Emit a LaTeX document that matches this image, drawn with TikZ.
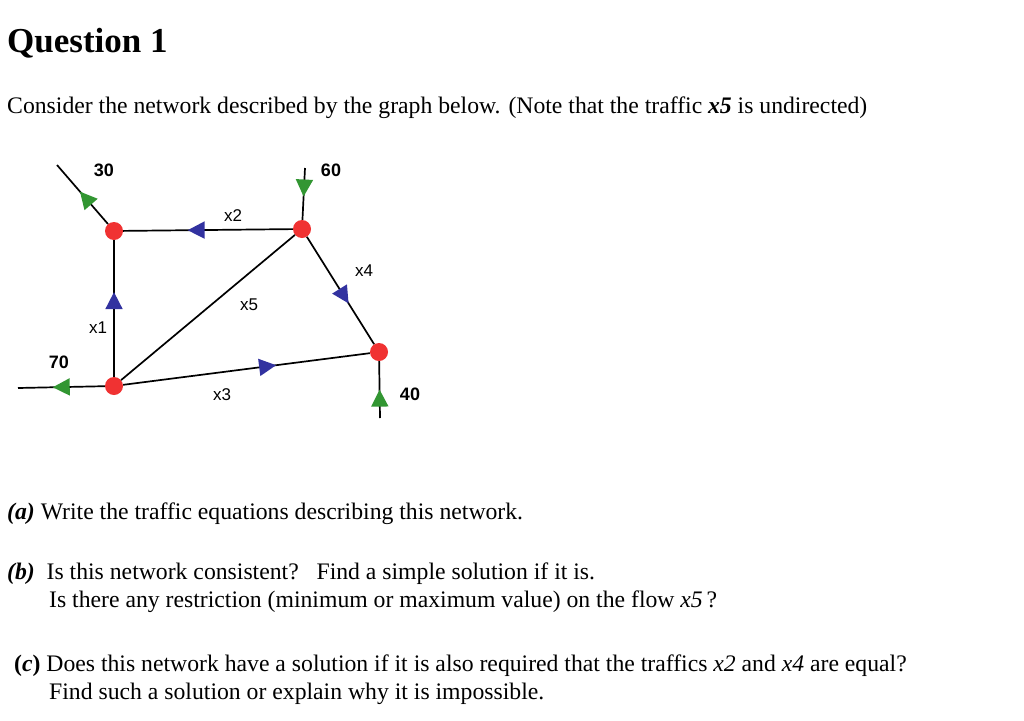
\documentclass[tikz,border=0pt]{standalone}
\usepackage{fontspec}
\setmainfont{Liberation Serif}
\setsansfont{Liberation Sans}
\usetikzlibrary{arrows.meta,decorations.markings}
\definecolor{nred}{RGB}{240,50,50}
\definecolor{ngreen}{RGB}{50,150,50}
\definecolor{nblue}{RGB}{50,50,160}
\tikzset{
  vtx/.style={circle,fill=nred,minimum size=18pt,inner sep=0pt},
  edge/.style={line width=1.7pt,black},
  mk/.style 2 args={postaction={decorate},decoration={markings,mark=at position #2 with {\arrow[#1]{Triangle[length=17pt,width=17pt]}}}},
  lab/.style={font=\sffamily\fontsize{17}{19}\selectfont},
  num/.style={font=\sffamily\bfseries\fontsize{18}{20}\selectfont},
  txt/.style={anchor=base west,inner sep=0pt,font=\fontsize{23.7}{26}\selectfont}
}
\begin{document}
\begin{tikzpicture}[x=1pt,y=-1pt]
\useasboundingbox[fill=white] (0,0) rectangle (1024,720);
\node[anchor=base west,inner sep=0pt,font=\bfseries\fontsize{35}{40}\selectfont] (title) at (7,52) {Question 1};
\node[txt] (intro) at (7,113) {Consider the network described by the graph below. (Note that the traffic \textbf{\textit{x5}} is undirected)};
\node[vtx] (A) at (114,231) {};
\node[vtx] (B) at (302,229) {};
\node[vtx] (C) at (379,352) {};
\node[vtx] (D) at (114,386) {};
\coordinate (o30) at (57,165);
\coordinate (i60) at (305,168);
\coordinate (o70) at (18,388);
\coordinate (i40) at (380,418);
\draw[edge,mk={nblue}{0.62}] (B) -- (A);
\draw[edge,mk={nblue}{0.62}] (D) -- (A);
\draw[edge,mk={nblue}{0.62}] (B) -- (C);
\draw[edge,mk={nblue}{0.62}] (D) -- (C);
\draw[edge] (D) -- (B);
\draw[edge,mk={ngreen}{0.55}] (A) -- (o30);
\draw[edge,mk={ngreen}{0.55}] (i60) -- (B);
\draw[edge,mk={ngreen}{0.6}] (D) -- (o70);
\draw[edge,mk={ngreen}{0.5}] (i40) -- (C);
\node[num] (n30) at (104,170) {30};
\node[num] (n60) at (331,170) {60};
\node[num] (n70) at (59,362) {70};
\node[num] (n40) at (410,394) {40};
\node[lab] (lx2) at (233,216) {x2};
\node[lab] (lx4) at (364,271) {x4};
\node[lab] (lx5) at (249,305) {x5};
\node[lab] (lx1) at (98,328) {x1};
\node[lab] (lx3) at (222,395) {x3};
\node[txt] (qa) at (7,519) {\textbf{\textit{(a)}} Write the traffic equations describing this network.};
\node[txt] (qb) at (7,579) {\textbf{\textit{(b)}}\ \ Is this network consistent?\ \ \ Find a simple solution if it is.};
\node[txt] (qb2) at (49,607) {Is there any restriction (minimum or maximum value) on the flow \textit{x5}\,?};
\node[txt] (qc) at (14,671) {\textbf{(\textit{c})} Does this network have a solution if it is also required that the traffics \textit{x2} and \textit{x4} are equal?};
\node[txt] (qc2) at (49,699) {Find such a solution or explain why it is impossible.};
\end{tikzpicture}
\end{document}
